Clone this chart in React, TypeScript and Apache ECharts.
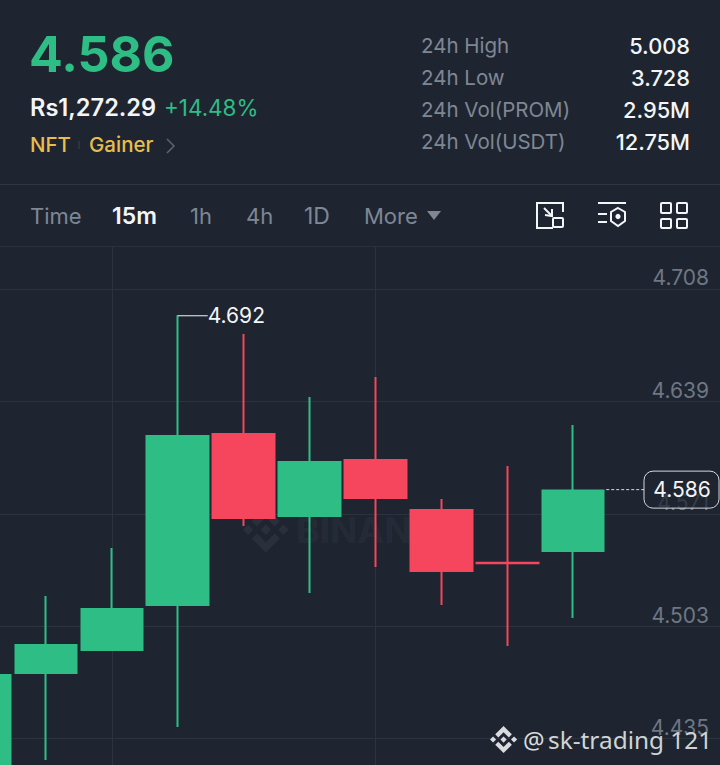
import React, { useEffect, useRef } from "react";
import * as echarts from "echarts";

const categories = ["c0", "c1", "c2", "c3", "c4", "c5", "c6", "c7", "c8", "c9", "c10", "c11"];
const opens = [4.41, 4.4745, 4.4885, 4.5159, 4.6198, 4.57, 4.604, 4.5736, 4.5415, 4.5487];
const closes = [4.4733, 4.4916, 4.5134, 4.6186, 4.5688, 4.6028, 4.5809, 4.5365, 4.5413, 4.5854];
const lows = [4.4, 4.4216, 4.4885, 4.4417, 4.5639, 4.5232, 4.539, 4.5159, 4.4909, 4.508];
const highs = [4.4733, 4.5213, 4.5505, 4.692, 4.6806, 4.6423, 4.6545, 4.5803, 4.6004, 4.6253];
const yTicks = [4.708, 4.6397, 4.5713, 4.503, 4.435];
const verticalLines = ["c2", "c6"];
const lastPrice = 4.586;
const peakPrice = 4.692;
const peakCategory = "c3";
const lastCategory = "c9";
const statNames = ["24h High", "24h Low", "24h Vol(PROM)", "24h Vol(USDT)"];
const statValues = ["5.008", "3.728", "2.95M", "12.75M"];
const tabs = ["Time", "15m", "1h", "4h", "1D", "More"];

const BG = "#1e2530";
const GREEN = "#2ebd85";
const RED = "#f6465d";
const GOLD = "#e9bd4b";
const GRAY = "#7f8794";
const WHITE = "#f4f5f6";
const FONT = "Inter";
const LINE = "#2c333e";
const SHIFT = 54;

const BNB =
  "M7.34 10.08 12 5.43l4.66 4.66 2.71-2.71L12 0 4.63 7.37zM0 12l2.71-2.71L5.42 12l-2.71 2.71zM7.34 13.92 12 18.57l4.66-4.66 2.71 2.71L12 24l-7.37-7.37zM18.58 12l2.71-2.71L24 12l-2.71 2.71zM14.75 12 12 9.25 9.97 11.28l-.23.24-.48.48L12 14.75z";

function txt(text: string, x: number, y: number, size: number, fill: string, weight: number | string = 400, align = "left", z = 20, family = FONT) {
  return {
    type: "text",
    x,
    y,
    z,
    style: { text, fill, fontSize: size, fontWeight: weight, fontFamily: family, align, verticalAlign: "middle" },
  };
}

function strokeRect(x: number, y: number, width: number, height: number, r = 1) {
  return {
    type: "rect",
    z: 20,
    shape: { x, y, width, height, r },
    style: { fill: "none", stroke: WHITE, lineWidth: 2 },
  };
}

function seg(x1: number, y1: number, x2: number, y2: number, stroke = WHITE, lineWidth = 2, z = 20, lineDash?: number[]) {
  return {
    type: "line",
    z,
    shape: { x1, y1, x2, y2 },
    style: { stroke, lineWidth, lineDash },
  };
}

export default function App() {
  const ref = useRef<HTMLDivElement>(null);
  useEffect(() => {
    if (!ref.current) return;
    try {
      echarts.graphic.registerShape("bnb", echarts.graphic.extendPath(BNB, {}) as any);
    } catch (e) {}
    const chart = echarts.init(ref.current, undefined, { renderer: "svg" });
    const option: any = {
      animation: false,
      backgroundColor: BG,
      grid: { left: 1, top: 247, width: 792, height: 518, containLabel: false },
      xAxis: {
        type: "category",
        data: categories,
        axisLine: { show: false },
        axisTick: { show: false },
        axisLabel: { show: false },
        splitLine: { show: false },
      },
      yAxis: {
        type: "value",
        position: "right",
        min: 4.4186,
        max: 4.7335,
        scale: true,
        axisLine: { show: false },
        axisTick: { show: false, customValues: yTicks },
        splitLine: { show: true, lineStyle: { color: LINE, width: 1 } },
        axisLabel: {
          show: true,
          inside: true,
          customValues: yTicks,
          margin: 29,
          color: "#6f7784",
          fontSize: 21,
          fontFamily: FONT,
          verticalAlign: "bottom",
          lineHeight: 22,
          formatter: (v: number) => (Math.floor((v + 1e-7) * 1000) / 1000).toFixed(3),
        },
      },
      series: [
        {
          type: "line",
          data: [],
          z: 1,
          silent: true,
          markLine: {
            silent: true,
            symbol: "none",
            label: { show: false },
            lineStyle: { color: LINE, width: 1, type: "solid" },
            data: verticalLines.map((c) => ({ xAxis: c })),
          },
        },
        {
          type: "candlestick",
          barWidth: 62,
          z: 5,
          itemStyle: { color: GREEN, color0: RED, borderColor: GREEN, borderColor0: RED, borderWidth: 2 },
          data: opens.map((o, i) => [o, closes[i], lows[i], highs[i]]),
        },
      ],
    };
    chart.setOption(option);

    const py = (v: number) => chart.convertToPixel({ yAxisIndex: 0 }, v) as number;
    const px = (c: string) => (chart.convertToPixel({ xAxisIndex: 0 }, c) as number) - SHIFT;
    const lastY = py(lastPrice);
    const peakY = py(peakPrice);
    const peakX = px(peakCategory);
    const lastX = px(lastCategory);

    const elements: any[] = [
      // header
      txt("4.586", 29, 54, 50, GREEN, 700),
      txt("Rs1,272.29", 30, 107.5, 23.6, WHITE, 600),
      txt("+14.48%", 164, 107.5, 22.4, GREEN, 400),
      txt("NFT", 30, 144.5, 20.5, GOLD, 500),
      seg(79, 141, 79, 149, "#3a414d", 1),
      txt("Gainer", 89, 144.5, 20.5, GOLD, 500),
      { type: "polyline", z: 20, shape: { points: [[167, 139], [174, 146], [167, 153]] }, style: { fill: "none", stroke: "#5b626e", lineWidth: 1.6 } },
      ...statNames.map((s, i) => txt(s, 421, 45.5 + i * 32, 20.5, GRAY, 400)),
      ...statValues.map((s, i) => txt(s, 690, 45.5 + i * 32, 21.8, WHITE, 500, "right")),
      seg(0, 184.5, 720, 184.5, "#303742", 1),
      seg(0, 246.5, 720, 246.5, "#2a313b", 1),
      // tabs
      txt(tabs[0], 30, 216, 22, GRAY),
      txt(tabs[1], 112, 215.5, 23, WHITE, 600),
      txt(tabs[2], 190, 216, 22, GRAY),
      txt(tabs[3], 246, 216, 22, GRAY),
      txt(tabs[4], 304, 216, 23, GRAY),
      txt(tabs[5], 364, 216, 22, GRAY),
      { type: "polygon", z: 20, shape: { points: [[427, 211], [441, 211], [434, 220]] }, style: { fill: GRAY } },
      // icon 1
      { type: "polyline", z: 20, shape: { points: [[553, 228], [537, 228], [537, 203], [563, 203], [563, 212]] }, style: { fill: "none", stroke: WHITE, lineWidth: 2 } },
      strokeRect(553, 218, 10, 9),
      seg(544, 208, 552, 216),
      { type: "polyline", z: 20, shape: { points: [[545, 215], [552, 216], [552, 209]] }, style: { fill: "none", stroke: WHITE, lineWidth: 2 } },
      // icon 2
      seg(598, 203, 626, 203),
      seg(598, 214, 607, 214),
      seg(598, 222, 607, 222),
      { type: "polygon", z: 20, shape: { points: [[618, 208], [625, 212], [625, 221], [618, 226], [611, 221], [611, 212]] }, style: { fill: "none", stroke: WHITE, lineWidth: 2 } },
      { type: "circle", z: 20, shape: { cx: 618, cy: 216.5, r: 2.6 }, style: { fill: WHITE } },
      // icon 3
      strokeRect(661, 203, 10, 10),
      strokeRect(677, 203, 10, 10),
      strokeRect(661, 219, 10, 9),
      strokeRect(677, 219, 10, 9),
      // chart watermark
      { type: "bnb", x: 243, y: 507, scaleX: 1.9, scaleY: 1.9, z: 1, style: { fill: "rgba(255,255,255,0.055)" } },
      txt("BINANCE", 296, 530, 36, "rgba(255,255,255,0.055)", 700, "left", 1),
      // peak label
      seg(peakX, peakY + 0.5, peakX + 30, peakY + 0.5, WHITE, 1, 12),
      txt(String(peakPrice), peakX + 30, peakY, 21, WHITE, 400, "left", 12),
      // last price
      seg(lastX + 33, lastY, 644, lastY, "#d8dadd", 1, 12, [3, 2]),
      {
        type: "rect",
        z: 12,
        shape: { x: 644, y: lastY - 18.5, width: 75, height: 37, r: 9 },
        style: { fill: "rgba(30,37,48,0.72)", stroke: "#d5d8dc", lineWidth: 1 },
      },
      txt(String(lastPrice), 682, lastY, 21, WHITE, 400, "center", 13),
      // photo credit
      { type: "bnb", x: 490, y: 726, scaleX: 1.13, scaleY: 1.13, z: 30, style: { fill: "#d9dbde" } },
      txt("@", 523, 739, 24, "#d9dbde", 400, "left", 30, "Noto Sans"),
      txt("sk-trading 121", 548, 739, 24.4, "#d0d3d6", 400, "left", 30, "Noto Sans"),
    ];
    chart.setOption({ graphic: { elements: [{ type: "group", x: SHIFT, y: 0, children: elements }] } });
    return () => chart.dispose();
  }, []);
  return (
    <div style={{ position: "fixed", left: 0, top: 0, width: 720, height: 765, overflow: "hidden", background: BG }}>
      <div ref={ref} style={{ position: "absolute", left: -SHIFT, top: 0, width: 792, height: 765 }} />
    </div>
  );
}
